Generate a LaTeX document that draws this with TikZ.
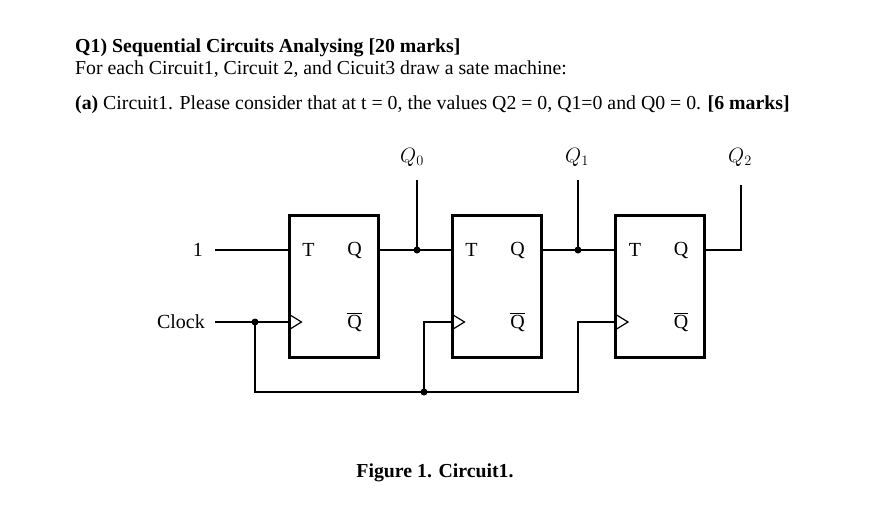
\documentclass[tikz,border=0pt]{standalone}
\usepackage{fontspec}
\setmainfont{Liberation Serif}
\tikzset{ff box/.style={draw, line width=3pt, minimum width=89pt, minimum height=142pt, inner sep=0pt},
  wire/.style={line width=1.2pt},
  pin/.style={font=\fontsize{20}{24}\selectfont, inner sep=0pt},
  junction/.style={circle, fill, inner sep=0pt, minimum size=7pt},
  txt/.style={font=\fontsize{19.8}{24}\selectfont, anchor=base west, inner sep=0pt}}
\begin{document}
\begin{tikzpicture}[x=1pt,y=-1pt]
\useasboundingbox (0,0) rectangle (896,530);
\node [txt] (title) at (75,52) {\textbf{Q1) Sequential Circuits Analysing [20 marks]}};
\node [txt] (task) at (75,74) {For each Circuit1, Circuit 2, and Cicuit3 draw a sate machine:};
\node [txt] (parta) at (75,109) {\textbf{(a)} Circuit1. Please consider that at t = 0, the values Q2 = 0, Q1=0 and Q0 = 0. \textbf{[6 marks]}};
\node [txt, anchor=base] (caption) at (435,477) {\textbf{Figure 1. Circuit1.}};
% flip-flops
\node [ff box] (ff0) at (333.5,286) {};
\node [ff box] (ff1) at (496.5,286) {};
\node [ff box] (ff2) at (660,286) {};
\foreach \f in {ff0,ff1,ff2} {
  \node [pin] at ([xshift=-71pt,yshift=36pt]\f.east) {T};
  \node [pin] at ([xshift=-25pt,yshift=36pt]\f.east) {Q};
  \node [pin] at ([xshift=-25pt,yshift=-36pt]\f.east) {$\overline{\mbox{Q}}$};
  \draw [wire] ([xshift=1pt]\f.west |- 0,314) -- ++(13,8) -- ++(-13,8);
}
% inputs
\node [pin, anchor=east] (one) at (203,250) {1};
\node [pin, anchor=east] (clk) at (205,322) {Clock};
\coordinate (clkdot) at (255,322);
\coordinate (mid) at (424,392);
\coordinate (q0) at (417,250);
\coordinate (q1) at (578,250);
\node [junction] at (clkdot) {};
\node [junction] at (mid) {};
\node [junction] at (q0) {};
\node [junction] at (q1) {};
% outputs
\node [pin, font=\fontsize{22}{24}\selectfont] (lq0) at (412,157) {$Q_0$};
\node [pin, font=\fontsize{22}{24}\selectfont] (lq1) at (577,157) {$Q_1$};
\node [pin, font=\fontsize{22}{24}\selectfont] (lq2) at (740,157) {$Q_2$};
\draw [wire] (one.east) ++(12,0) -- (ff0.west |- 0,250);
\draw [wire] (ff0.east |- 0,250) -- (ff1.west |- 0,250);
\draw [wire] (ff1.east |- 0,250) -- (ff2.west |- 0,250);
\draw [wire] (ff2.east |- 0,250) -- (741,250) -- (741,185);
\draw [wire] (q0) -- (417,180);
\draw [wire] (q1) -- (578,180);
% clock
\draw [wire] (clk.east) ++(10,0) -- (ff0.west |- 0,322);
\draw [wire] (clkdot) -- (255,392) -- (578,392) -- (578,322) -- (ff2.west |- 0,322);
\draw [line width=2.4pt] (mid) -- (424,322) -- (ff1.west |- 0,322);
\end{tikzpicture}
\end{document}
